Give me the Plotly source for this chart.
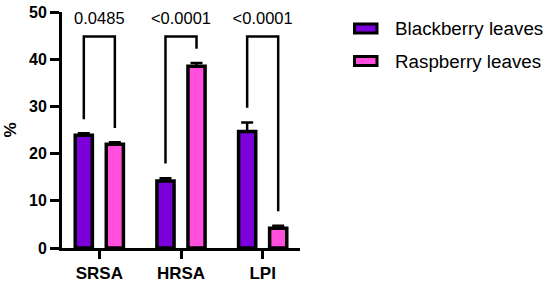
import plotly.graph_objects as go
import numpy as np

categories = ["SRSA", "HRSA", "LPI"]
series_names = ["Blackberry leaves", "Raspberry leaves"]
blackberry = [23.9, 14.2, 24.7]
blackberry_err = [0.4, 0.6, 1.9]
raspberry = [22.0, 38.5, 4.2]
raspberry_err = [0.4, 0.7, 0.5]
p_labels = ["0.0485", "<0.0001", "<0.0001"]
bracket_left_bottom = [27.3, 17.9, 29.7]
bracket_right_bottom = [25.4, 42.2, 7.8]
bracket_top = [44.8, 44.8, 44.8]
p_label_y = [48.4, 48.4, 48.4]
y_ticks = [0, 10, 20, 30, 40, 50]

colors = ["#7B00DA", "#FF4FDC"]
W, H = 550, 285
ML, MR, MT, MB = 62, 250, 12, 37
off = 0.19
bw = 0.21
xs = np.arange(len(categories))
FONT = "Liberation Sans, Arial, sans-serif"

fig = go.Figure()
for vals, errs, name, col, sgn in [(blackberry, blackberry_err, series_names[0], colors[0], -1),
                                   (raspberry, raspberry_err, series_names[1], colors[1], 1)]:
    fig.add_trace(go.Bar(
        x=xs, y=vals, name=name, width=bw, offset=sgn * off - bw / 2,
        marker=dict(color=col, line=dict(color="black", width=3.5)),
        error_y=dict(type="data", array=errs, arrayminus=[0] * len(errs), symmetric=False,
                     color="black", thickness=2.5, width=6),
        showlegend=False, cliponaxis=False,
    ))

for i in range(len(categories)):
    fig.add_trace(go.Scatter(
        x=[xs[i] - off, xs[i] - off, xs[i] + off, xs[i] + off],
        y=[bracket_left_bottom[i], bracket_top[i], bracket_top[i], bracket_right_bottom[i]],
        mode="lines", line=dict(color="black", width=2.5), showlegend=False,
        hoverinfo="skip", cliponaxis=False,
    ))

fig.add_trace(go.Scatter(
    x=xs, y=p_label_y, mode="text", text=p_labels,
    textfont=dict(family=FONT, size=16.5, color="black"),
    showlegend=False, cliponaxis=False, hoverinfo="skip",
))

# manual legend (paper coordinates derived from pixel positions)
pw = W - ML - MR
ph = H - MT - MB
def px2x(p):
    return (p - ML) / pw
def py2y(p):
    return 1 - (p - MT) / ph

legend_centers = [28.5, 61]
for name, col, cy in zip(series_names, colors, legend_centers):
    fig.add_shape(type="rect", xref="paper", yref="paper",
                  x0=px2x(354.5), x1=px2x(377), y0=py2y(cy + 4.5), y1=py2y(cy - 4.5),
                  fillcolor=col, line=dict(color="black", width=3))
    fig.add_annotation(xref="paper", yref="paper", x=px2x(392.5), y=py2y(cy),
                       text=name, showarrow=False, xanchor="left", yanchor="middle",
                       font=dict(family=FONT, size=18.8, color="black"))

fig.update_layout(
    width=W, height=H,
    margin=dict(l=ML, r=MR, t=MT, b=MB, pad=0, autoexpand=False),
    plot_bgcolor="white", paper_bgcolor="white",
    barmode="overlay",
    font=dict(family=FONT, color="black"),
    xaxis=dict(range=[-0.457, 2.457], tickvals=xs, ticktext=categories, automargin=False,
               showgrid=False, zeroline=False, showline=True, linecolor="black", linewidth=3,
               ticks="outside", ticklen=8, tickwidth=2.5, tickcolor="black",
               tickfont=dict(family=FONT, size=17, color="black", weight="bold")),
    yaxis=dict(range=[0, 50], tickvals=y_ticks, automargin=False,
               showgrid=False, zeroline=False, showline=True, linecolor="black", linewidth=3,
               ticks="outside", ticklen=9, tickwidth=2.5, tickcolor="black",
               tickfont=dict(family=FONT, size=16, color="black", weight="bold"),
               title=dict(text="%", standoff=9,
                          font=dict(family=FONT, size=17, color="black", weight="bold"))),
)

fig.write_html("out.html")
